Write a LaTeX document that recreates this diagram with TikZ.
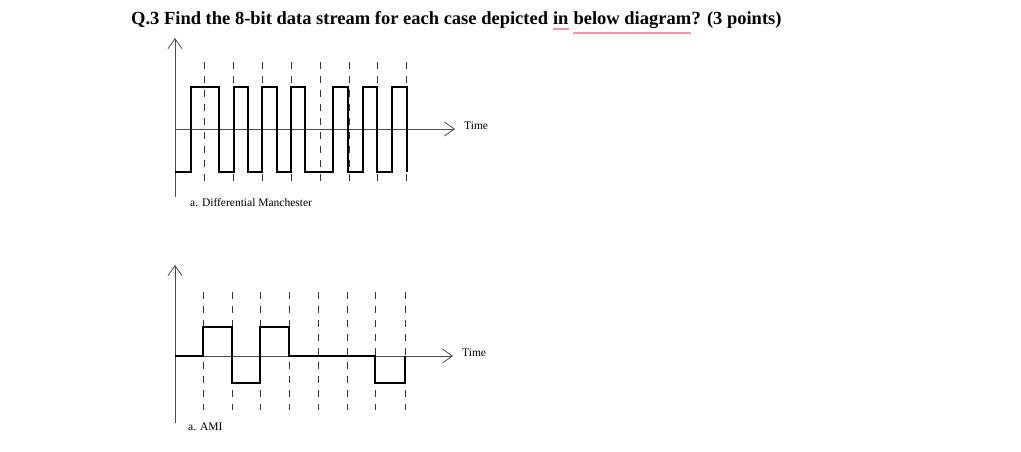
\documentclass[tikz,border=0pt]{standalone}
\usepackage{fontspec}
\setmainfont{Liberation Serif}
\usetikzlibrary{arrows.meta}
\definecolor{pinkline}{RGB}{240,150,170}
\begin{document}
\begin{tikzpicture}[x=1pt,y=-1pt,
  axis/.style={draw=black!70,line width=0.8pt,-{Straight Barb[length=10pt,width=14pt,line width=0.8pt]}},
  wave/.style={draw=black,line width=1.6pt,line join=miter},
  grid/.style={draw=black!80,line width=0.6pt,dash pattern=on 7pt off 7pt},
  ttl/.style={anchor=base west,inner sep=0pt,font=\fontsize{18.5}{22}\selectfont\bfseries},
  lab/.style={font=\fontsize{11.5}{13}\selectfont,anchor=west,inner sep=0pt}]
\useasboundingbox (0,0) rectangle (1021,452);
\node[ttl] (ta) at (131,25) {Q.3 Find the 8-bit data stream for each case depicted};
\node[ttl] (u1) at ([xshift=4.6pt]ta.base east) {in};
\node[ttl] (u2) at ([xshift=4.6pt]u1.base east) {below diagram};
\node[ttl] (tb) at (u2.base east) {? (3 points)};
\draw[pinkline,line width=2pt] ([yshift=-4pt]u1.south west) -- ([yshift=-4pt]u1.south east);
\draw[pinkline,line width=2pt] ([yshift=-4pt]u2.south west) -- ([yshift=-4pt]u2.south east);
% top diagram
\foreach \x in {204,233,262,291,320,349,377,406} \draw[grid] (\x,62) -- (\x,187);
\draw[axis] (175,197) -- (175,38);
\draw[axis] (175,129) -- (455,129);
\node[lab] (t1) at (464,126) {Time};
\draw[wave] (175,172) -| (191,87) -| (219,172) -| (234,87) -| (248,172) -| (262,87) -| (277,172) -| (291,87) -| (305,172) -| (333,87) -| (348,172) -| (363,87) -| (377,172) -| (392,87) -| (407,172);
\node[lab] (l1) at (190,203) {a. Differential Manchester};
% bottom diagram
\foreach \x in {203,232,260,289,318,347,375,405} \draw[grid] (\x,292) -- (\x,410);
\draw[axis] (175,423) -- (175,265);
\draw[axis] (175,356) -- (453,356);
\node[lab] (t2) at (462,353) {Time};
\draw[wave] (175,356) -| (203,327) -| (232,383) -| (260,327) -| (289,356) -| (375,383) -| (405,356);
\node[lab] (l2) at (188,427) {a. AMI};
\end{tikzpicture}
\end{document}
